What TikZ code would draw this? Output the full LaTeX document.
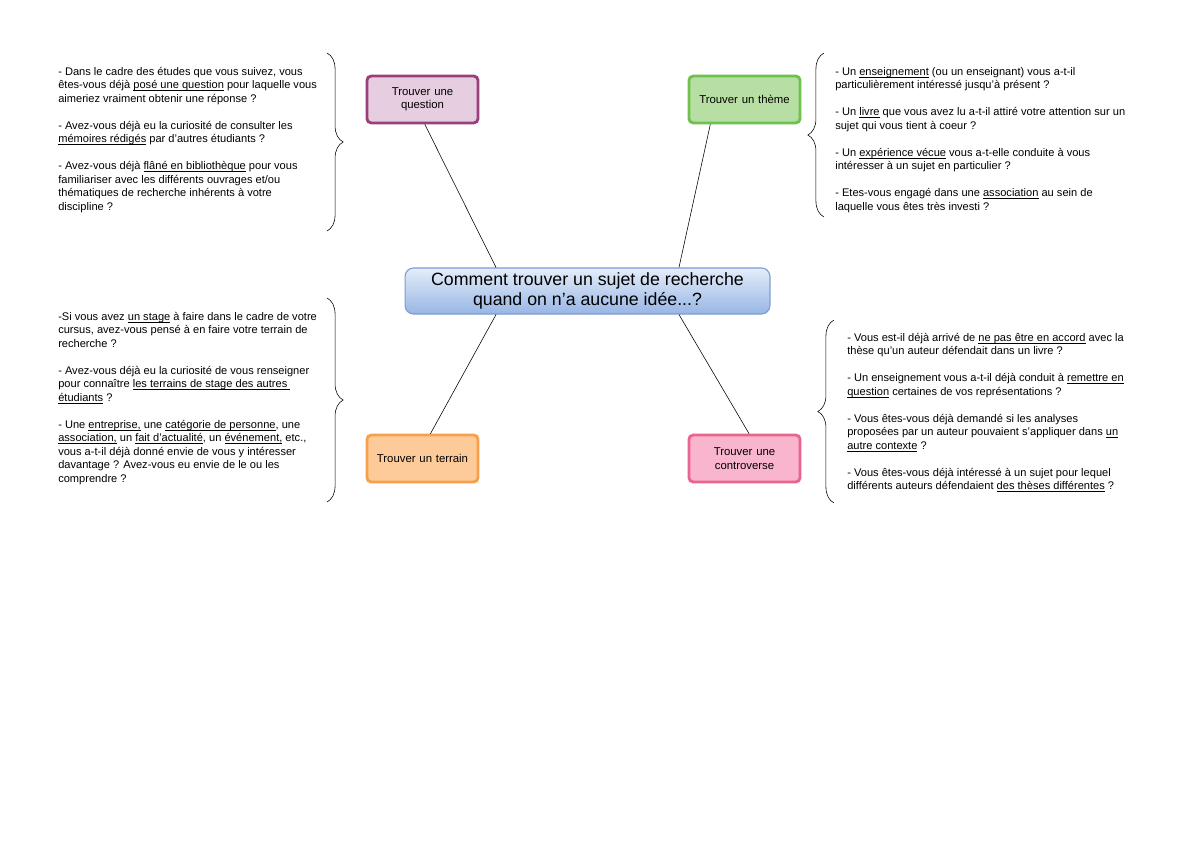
\documentclass[tikz,border=0pt]{standalone}
\usepackage{fontspec}
\setmainfont{Liberation Sans}
\usepackage{tikz}
\usetikzlibrary{shapes,positioning,calc,decorations.pathreplacing}

\definecolor{qfill}{HTML}{E6CEE0}
\definecolor{qdraw}{HTML}{9B3F7C}
\definecolor{tfill}{HTML}{B8DFA3}
\definecolor{tdraw}{HTML}{6DC14C}
\definecolor{rfill}{HTML}{FDCB9A}
\definecolor{rdraw}{HTML}{F6A04A}
\definecolor{cfill}{HTML}{F8B5CD}
\definecolor{cdraw}{HTML}{E9648F}
\definecolor{mdraw}{HTML}{7B9ED3}
\definecolor{mtop}{HTML}{E4EDFA}
\definecolor{mbot}{HTML}{98B6E4}

\newsavebox{\soulbox}
\newcommand{\souligne}[1]{\sbox{\soulbox}{#1}\rlap{\rule[-1.7pt]{\wd\soulbox}{0.6pt}}\usebox{\soulbox}}

\begin{document}
\begin{tikzpicture}[
    x=0.2475mm, y=-0.2475mm,
    block/.style={rectangle, draw, line width=2pt, rounded corners=3pt, minimum width=27.5mm, minimum height=11.6mm, text width=24mm, align=center, font=\fontsize{8}{9.5}\selectfont},
    mainblock/.style={rectangle, draw=mdraw, line width=0.8pt, rounded corners=6pt, minimum width=90.3mm, minimum height=11.4mm, align=center, top color=mtop, bottom color=mbot, font=\fontsize{12.5}{14}\selectfont},
    questions/.style={anchor=north west, inner sep=0pt, align=left, font=\fontsize{7.8}{9.5}\selectfont},
    bracket/.style={decorate, decoration={brace, amplitude=4mm}, thin},
    link/.style={thin}
]
    \useasboundingbox (0,0) rectangle (1200,848);

    % Centre
    \node[mainblock] (main) at (587.5,291) {Comment trouver un sujet de recherche\\quand on n'a aucune idée...?};

    % Branches
    \node[block, fill=qfill, draw=qdraw] (question) at (422.5,99.5) {Trouver une question};
    \node[block, fill=tfill, draw=tdraw] (theme) at (744.5,99.5) {Trouver un thème};
    \node[block, fill=rfill, draw=rdraw] (terrain) at (422.5,458.5) {Trouver un terrain};
    \node[block, fill=cfill, draw=cdraw] (controverse) at (744.5,458.5) {Trouver une controverse};

    % Links
    \draw[link] ($(question.south west)!0.52!(question.south east)$) -- ($(main.north west)!0.25!(main.north east)$);
    \draw[link] ($(theme.south west)!0.2!(theme.south east)$) -- ($(main.north west)!0.75!(main.north east)$);
    \draw[link] ($(terrain.north west)!0.57!(terrain.north east)$) -- ($(main.south west)!0.25!(main.south east)$);
    \draw[link] ($(controverse.north west)!0.54!(controverse.north east)$) -- ($(main.south west)!0.75!(main.south east)$);

    % Questions
    \node[questions] (qtext) at (58,67) {- Dans le cadre des études que vous suivez, vous\\
        êtes-vous déjà \souligne{posé une question} pour laquelle vous\\
        aimeriez vraiment obtenir une réponse ?\\[9.5pt]
        - Avez-vous déjà eu la curiosité de consulter les\\
        \souligne{mémoires rédigés} par d'autres étudiants ?\\[9.5pt]
        - Avez-vous déjà \souligne{flâné en bibliothèque} pour vous\\
        familiariser avec les différents ouvrages et/ou\\
        thématiques de recherche inhérents à votre\\
        discipline ?};
    \node[questions] (ttext) at (835,67) {- Un \souligne{enseignement} (ou un enseignant) vous a-t-il\\
        particulièrement intéressé jusqu'à présent ?\\[9.5pt]
        - Un \souligne{livre} que vous avez lu a-t-il attiré votre attention sur un\\
        sujet qui vous tient à coeur ?\\[9.5pt]
        - Un \souligne{expérience vécue} vous a-t-elle conduite à vous\\
        intéresser à un sujet en particulier ?\\[9.5pt]
        - Etes-vous engagé dans une \souligne{association} au sein de\\
        laquelle vous êtes très investi ?};
    \node[questions] (rtext) at (58,312) {-Si vous avez \souligne{un stage} à faire dans le cadre de votre\\
        cursus, avez-vous pensé à en faire votre terrain de\\
        recherche ?\\[9.5pt]
        - Avez-vous déjà eu la curiosité de vous renseigner\\
        pour connaître \souligne{les terrains de stage des autres\ }\\
        \souligne{étudiants} ?\\[9.5pt]
        - Une \souligne{entreprise,} une \souligne{catégorie de personne}, une\\
        \souligne{association,} un \souligne{fait d'actualité}, un \souligne{événement,} etc.,\\
        vous a-t-il déjà donné envie de vous y intéresser\\
        davantage ? Avez-vous eu envie de le ou les\\
        comprendre ?};
    \node[questions] (ctext) at (847,333) {- Vous est-il déjà arrivé de \souligne{ne pas être en accord} avec la\\
        thèse qu'un auteur défendait dans un livre ?\\[9.5pt]
        - Un enseignement vous a-t-il déjà conduit à \souligne{remettre en}\\
        \souligne{question} certaines de vos représentations ?\\[9.5pt]
        - Vous êtes-vous déjà demandé si les analyses\\
        proposées par un auteur pouvaient s'appliquer dans \souligne{un}\\
        \souligne{autre contexte} ?\\[9.5pt]
        - Vous êtes-vous déjà intéressé à un sujet pour lequel\\
        différents auteurs défendaient \souligne{des thèses différentes} ?};

    % Braces
    \coordinate (qtop) at (327,53);
    \coordinate (qbot) at (327,231);
    \coordinate (ttop) at (824,53);
    \coordinate (tbot) at (824,217);
    \coordinate (rtop) at (327,298);
    \coordinate (rbot) at (327,502);
    \coordinate (ctop) at (834,320);
    \coordinate (cbot) at (834,503);
    \draw[bracket] (qtop) -- (qbot);
    \draw[bracket] (tbot) -- (ttop);
    \draw[bracket] (rtop) -- (rbot);
    \draw[bracket] (cbot) -- (ctop);

\end{tikzpicture}
\end{document}
